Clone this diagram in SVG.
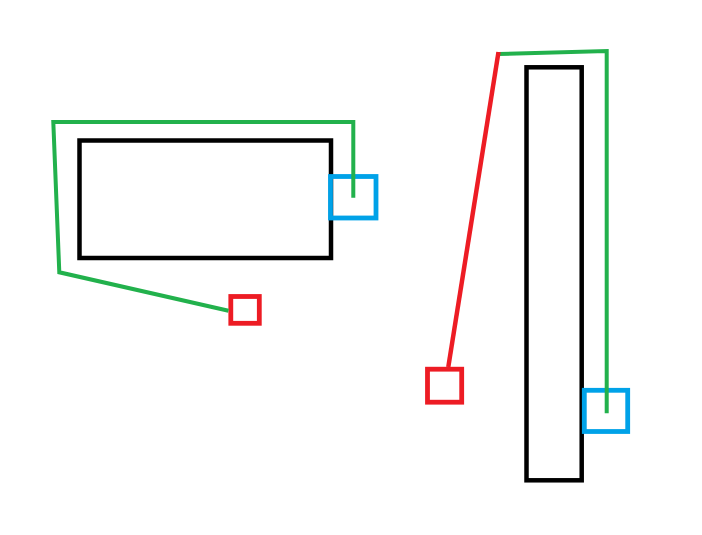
<svg xmlns="http://www.w3.org/2000/svg" width="702" height="535" viewBox="0 0 702 535">
<style>
.box{fill:none;stroke:#000;stroke-width:4.5}
.red{fill:none;stroke:#ED1C24;stroke-width:4.8}
.blue{fill:none;stroke:#00A2E8;stroke-width:4.8}
.g{fill:none;stroke:#22B14C;stroke-width:4;stroke-linejoin:miter}
.r{fill:none;stroke:#ED1C24;stroke-width:4.5}
</style>
<rect width="702" height="535" fill="#fff"/>
<g id="block1"><rect class="box" x="79.5" y="140.5" width="251.5" height="117.5"/></g>
<g id="blue1"><rect class="blue" x="330.5" y="176.5" width="45.5" height="41.5"/></g>
<g id="red1"><rect class="red" x="230.8" y="296.5" width="28.5" height="26.8"/></g>
<g id="block2"><rect class="box" x="526.5" y="67.3" width="55.2" height="413"/></g>
<g id="blue2"><rect class="blue" x="584.3" y="390.3" width="43.4" height="41.2"/></g>
<g id="red2"><rect class="red" x="427.5" y="369.2" width="34.2" height="33"/></g>
<g id="connectors">
<polyline class="g" points="353.3,197.7 353.3,122 53.3,122 59.3,272.3 228.5,310.7"/>
<polyline class="g" points="498.5,54 606.7,51 606.7,413.3"/>
<line class="r" x1="498.5" y1="52" x2="448.3" y2="367"/>
</g>
</svg>
